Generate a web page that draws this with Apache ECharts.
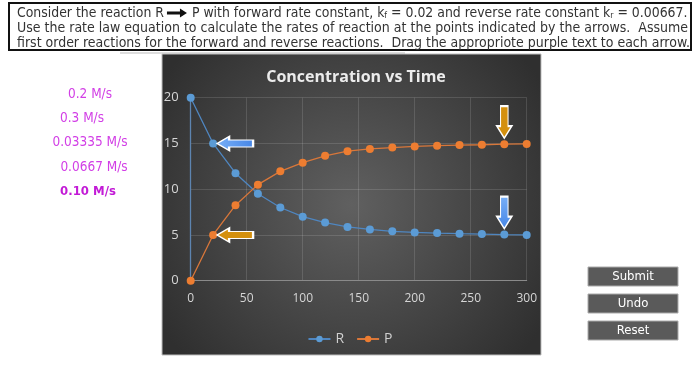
<!DOCTYPE html>
<html>
<head>
<meta charset="utf-8">
<script src="https://cdn.jsdelivr.net/npm/echarts@6/dist/echarts.min.js"></script>
<style>
html,body{margin:0;padding:0;background:#fff;}
#main{width:700px;height:384px;}
</style>
</head>
<body>
<div id="main"></div>
<script>
// ---- data ----
const times = [0, 20, 40, 60, 80, 100, 120, 140, 160, 180, 200, 220, 240, 260, 280, 300];
const seriesR = [20, 15, 11.75, 9.5, 8.0, 7.0, 6.35, 5.88, 5.6, 5.4, 5.28, 5.2, 5.14, 5.1, 5.04, 5.0];
const seriesP = [0, 5, 8.25, 10.5, 11.95, 12.9, 13.65, 14.15, 14.4, 14.55, 14.68, 14.76, 14.82, 14.86, 14.92, 14.95];
const xTicks = [0, 50, 100, 150, 200, 250, 300];
const yTicks = [0, 5, 10, 15, 20];
const rateLabels = ['0.2 M/s', '0.3 M/s', '0.03335 M/s', '0.0667 M/s', '0.10 M/s'];
const buttonLabels = ['Submit', 'Undo', 'Reset'];
const titleText = 'Concentration vs Time';
const line1 = ['Consider the reaction R', ' P with forward rate constant, k', 'f', ' = 0.02 and reverse rate constant k', 'r', ' = 0.00667.'];
const line2 = 'Use the rate law equation to calculate the rates of reaction at the points indicated by the arrows.  Assume';
const line3 = 'first order reactions for the forward and reverse reactions.  Drag the appropriote purple text to each arrow.';

// ---- helpers ----
const FONT = '"DejaVu Sans Condensed", "DejaVu Sans", sans-serif';
const cv = document.createElement('canvas').getContext('2d');
function tw(txt, size) { cv.font = size + 'px ' + FONT; return cv.measureText(txt).width; }
function fitSize(txt, target) { return 13 * target / tw(txt, 13); }

const textColor = '#333';
const left0 = 17;
const graphics = [];

// frame of the instructions box
graphics.push({ type: 'rect', shape: { x: 9, y: 3, width: 682, height: 47 }, style: { fill: '#fff', stroke: '#111', lineWidth: 2 }, z: -50 });
graphics.push({ type: 'line', shape: { x1: 120, y1: 53, x2: 405, y2: 53 }, style: { stroke: '#bbb', lineWidth: 1 }, z: -60 });

// line 1 with arrow and subscripts
(function () {
  const arrowW = 22, subScale = 0.62;
  let baseW = tw(line1[0], 13) + tw(line1[1], 13) + tw(line1[3], 13) + tw(line1[5], 13)
    + tw(line1[2], 13 * subScale) + tw(line1[4], 13 * subScale) + arrowW + 4;
  const fs = 13 * (673 - arrowW - 4) / (baseW - arrowW - 4);
  let x = left0;
  const y = 13;
  const add = (t, size, dy) => {
    graphics.push({ type: 'text', x: x, y: y + dy, style: { text: t, font: size.toFixed(2) + 'px ' + FONT, fill: textColor, textVerticalAlign: 'middle' } });
    x += tw(t, size);
  };
  add(line1[0], fs, 0);
  x += 3;
  graphics.push({ type: 'polygon', shape: { points: [[x, y - 1.6], [x + 13, y - 1.6], [x + 13, y - 4.5], [x + arrowW - 2, y], [x + 13, y + 4.5], [x + 13, y + 1.6], [x, y + 1.6]] }, style: { fill: '#111' } });
  x += arrowW - 1;
  add(line1[1], fs, 0);
  add(line1[2], fs * subScale, 3);
  add(line1[3], fs, 0);
  add(line1[4], fs * subScale, 3);
  add(line1[5], fs, 0);
})();
graphics.push({ type: 'text', x: left0, y: 28, style: { text: line2, font: fitSize(line2, 671).toFixed(2) + 'px ' + FONT, fill: textColor, textVerticalAlign: 'middle' } });
graphics.push({ type: 'text', x: left0, y: 43, style: { text: line3, font: fitSize(line3, 673).toFixed(2) + 'px ' + FONT, fill: textColor, textVerticalAlign: 'middle' } });

// chart panel background
graphics.push({
  type: 'rect', shape: { x: 162, y: 54, width: 379, height: 301 },
  style: {
    fill: { type: 'radial', x: 0.5, y: 0.5, r: 0.75, colorStops: [{ offset: 0, color: '#606060' }, { offset: 1, color: '#2f2f2f' }] },
    stroke: '#bdbdbd', lineWidth: 1
  }, z: -100
});

// purple rate labels
const rateX = [90, 82, 90, 94, 88];
const rateY = [94, 118, 142, 167, 192];
rateLabels.forEach((t, i) => {
  const bold = i === rateLabels.length - 1;
  graphics.push({ type: 'text', x: rateX[i], y: rateY[i], style: { text: t, font: (bold ? 'bold 13px ' : '13.5px ') + FONT, fill: bold ? '#c21ad6' : '#d23fe6', textAlign: 'center', textVerticalAlign: 'middle' } });
});

// buttons
const btnY = [267, 294, 321];
buttonLabels.forEach((t, i) => {
  graphics.push({ type: 'rect', shape: { x: 588, y: btnY[i], width: 90, height: 19 }, style: { fill: '#5a5a5a', stroke: '#aaa', lineWidth: 1 } });
  graphics.push({ type: 'text', x: 633, y: btnY[i] + 9.5, style: { text: t, font: '13px ' + FONT, fill: '#fff', textAlign: 'center', textVerticalAlign: 'middle' } });
});

const leftArrow = 'path://M0,7 L12,0 L12,3.5 L36,3.5 L36,10.5 L12,10.5 L12,14 Z';
const downArrow = 'path://M3.5,0 L10.5,0 L10.5,20 L14,20 L7,32 L0,20 L3.5,20 Z';
const blueFill = { type: 'linear', x: 0, y: 0, x2: 0, y2: 1, colorStops: [{ offset: 0, color: '#79b0f8' }, { offset: 1, color: '#4585e6' }] };
const blueFillH = { type: 'linear', x: 0, y: 0, x2: 1, y2: 0, colorStops: [{ offset: 0, color: '#79b0f8' }, { offset: 1, color: '#4585e6' }] };
const orangeFill = '#d4900e';

const chart = echarts.init(document.getElementById('main'), null, { renderer: 'canvas' });
chart.setOption({
  animation: false,
  backgroundColor: 'transparent',
  graphic: graphics,
  title: {
    text: titleText, left: 351, top: 64, textAlign: 'center',
    textStyle: { color: '#ececec', fontSize: 16, fontWeight: 'bold', fontFamily: '"Open Sans", sans-serif' }
  },
  legend: {
    data: ['R', 'P'], top: 327, left: 'center', itemWidth: 22, itemHeight: 8, itemGap: 12,
    textStyle: { color: '#d0d0d0', fontSize: 14, fontFamily: '"Open Sans", sans-serif' }
  },
  grid: { left: 190.7, right: 173.3, top: 97.7, bottom: 103.3, containLabel: false },
  xAxis: {
    type: 'value', min: 0, max: 300, interval: 50,
    axisLine: { show: true, lineStyle: { color: '#8a8a8a', width: 1 } },
    axisTick: { show: false },
    axisLabel: { color: '#d6d6d6', fontSize: 12, margin: 12, fontFamily: '"Open Sans", sans-serif', formatter: v => xTicks.includes(v) ? String(v) : '' },
    splitLine: { show: true, lineStyle: { color: 'rgba(255,255,255,0.13)', width: 1 } }
  },
  yAxis: {
    type: 'value', min: 0, max: 20, interval: 5,
    axisLine: { show: true, onZero: false, lineStyle: { color: '#5d84b0', width: 1.3 } },
    axisTick: { show: false },
    axisLabel: { color: '#d6d6d6', fontSize: 13, margin: 12, fontFamily: '"Open Sans", sans-serif', formatter: v => yTicks.includes(v) ? String(v) : '' },
    splitLine: { show: true, lineStyle: { color: 'rgba(255,255,255,0.13)', width: 1 } }
  },
  series: [
    {
      name: 'R', type: 'line', data: times.map((t, i) => [t, seriesR[i]]),
      symbol: 'circle', symbolSize: 8, showSymbol: true,
      lineStyle: { color: '#4f86c0', width: 1.3 }, itemStyle: { color: '#5b9bd5' },
      markPoint: {
        label: { show: false },
        data: [
          { coord: [20, 15], symbol: leftArrow, symbolSize: [36, 14], symbolOffset: [22, 0], itemStyle: { color: blueFillH, borderColor: '#fff', borderWidth: 1.5 } },
          { coord: [280, 5.04], symbol: downArrow, symbolSize: [15, 32], symbolOffset: [0, -22], itemStyle: { color: blueFill, borderColor: '#fff', borderWidth: 1.5 } }
        ]
      }
    },
    {
      name: 'P', type: 'line', data: times.map((t, i) => [t, seriesP[i]]),
      symbol: 'circle', symbolSize: 8, showSymbol: true,
      lineStyle: { color: '#d9773a', width: 1.3 }, itemStyle: { color: '#ed7d31' },
      markPoint: {
        label: { show: false },
        data: [
          { coord: [20, 5], symbol: leftArrow, symbolSize: [36, 14], symbolOffset: [22, 0], itemStyle: { color: orangeFill, borderColor: '#fff', borderWidth: 1.5 } },
          { coord: [280, 14.92], symbol: downArrow, symbolSize: [15, 32], symbolOffset: [0, -22], itemStyle: { color: orangeFill, borderColor: '#fff', borderWidth: 1.5 } }
        ]
      }
    }
  ]
});
</script>
</body>
</html>
